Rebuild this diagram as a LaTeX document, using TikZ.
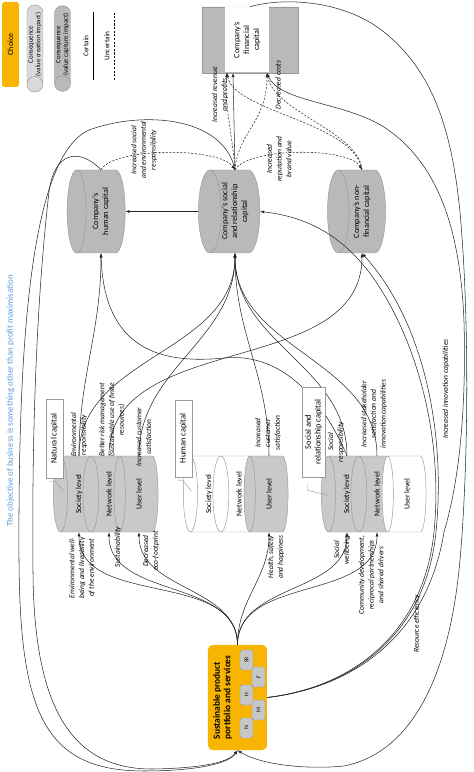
\documentclass[tikz,border=0pt]{standalone}
\usepackage{fontspec}
\setmainfont{Carlito}
\usetikzlibrary{shapes.geometric,arrows.meta}
\definecolor{choiceorange}{RGB}{247,180,0}
\definecolor{mottoblue}{RGB}{91,155,213}
\newcommand{\fsz}[2]{\fontsize{#1}{#2}\selectfont}

\tikzset{
  link/.style={draw=black!85, line width=0.45pt, -{Latex[length=3.5pt,width=2.6pt]}},
  unsure/.style={link, dash pattern=on 1.8pt off 1.3pt},
  capital/.style={cylinder, shape border rotate=90, aspect=0.4, draw=gray!80, fill=gray!55,
    inner sep=0pt, align=center, font=\fsz{7}{8.5}},
  level/.style={cylinder, shape border rotate=90, aspect=0.36, draw=gray!80, fill=gray!42,
    inner sep=0pt, minimum width=2.28cm, minimum height=1.32cm, font=\fsz{6.7}{8}},
  blank/.style={level, fill=white},
  tag/.style={draw=gray!80, fill=white, inner sep=0pt, align=center, font=\fsz{7.2}{8.5}},
  leader/.style={draw=gray!80, line width=0.4pt},
  note/.style={inner sep=0pt, align=center, font=\fsz{6.4}{8.3}\itshape},
  chip/.style={draw=gray!80, fill=gray!45, rounded corners=1.5pt, minimum width=0.6cm,
    minimum height=0.39cm, inner sep=0pt, font=\fsz{5}{6}},
  legcyl/.style={cylinder, shape border rotate=180, aspect=1.2, draw=gray!80, minimum width=0.48cm,
    minimum height=2.55cm, inner sep=0pt, align=center, font=\fsz{5.8}{6.4}}
}

\begin{document}
\begin{tikzpicture}[x=0.03cm, y=0.03cm, rotate=90, transform shape]
\useasboundingbox (0,0) rectangle (772,474);

% legend
\node[fill=choiceorange, rounded corners=2pt, minimum width=2.55cm, minimum height=0.5cm, inner sep=0pt, font=\fsz{6.8}{8}] (choice) at (727.5,463.5) {Choice};
\node[legcyl, fill=gray!30] (create) at (727.5,439) {Consequence\\(value creation impact)};
\node[legcyl, fill=gray!55] (capture) at (727.5,411.5) {Consequence\\(value capture impact)};
\coordinate (sure-a) at (692,381);
\coordinate (sure-b) at (760,381);
\coordinate (guess-a) at (692,360);
\coordinate (guess-b) at (760,360);
\draw[line width=0.5pt] (sure-a) -- (sure-b);
\draw[line width=0.5pt, dash pattern=on 1.8pt off 1.3pt] (guess-a) -- (guess-b);
\node[font=\fsz{6.2}{7}] (sure) at (726,388) {Certain};
\node[font=\fsz{6.2}{7}] (guess) at (726,367) {Uncertain};

\node[text=mottoblue, font=\fsz{7.6}{9}] (motto) at (371,463.5) {The objective of business is something other than profit maximisation};

% company capitals
\node[capital, minimum width=2.49cm, minimum height=1.74cm] (hum) at (560.5,373) {Company’s\\human capital};
\node[capital, minimum width=2.49cm, minimum height=1.74cm] (soc) at (560.5,239) {Company’s social\\and relationship\\capital};
\node[capital, minimum width=2.49cm, minimum height=1.74cm] (nonf) at (560.5,112) {Company’s non-\\financial capital};
\node[capital, minimum width=1.98cm, minimum height=2.88cm] (fin) at (732,224) {};
\node[fill=white, minimum width=1.95cm, minimum height=1.32cm, inner sep=0pt, align=center, font=\fsz{7}{8.5}] (fintxt) at (732,227) {Company’s\\financial\\capital};
\coordinate (fin-a) at (699,247);
\coordinate (fin-b) at (699,241);
\coordinate (fin-c) at (699,207);

% levels
\node[level] (natS) at (278,395) {Society level};
\node[level] (natN) at (278,365) {Network level};
\node[level] (natU) at (278,335) {User level};
\node[blank] (humS) at (278,265) {Society level};
\node[blank] (humN) at (278,235) {Network level};
\node[level] (humU) at (278,205) {User level};
\node[level] (socS) at (278,127) {Society level};
\node[level] (socN) at (278,97) {Network level};
\node[blank] (socU) at (278,67) {User level};

% choice
\node[fill=choiceorange, rounded corners=4pt, minimum width=3.15cm, minimum height=1.77cm] (prod) at (74.5,236.5) {};
\node[align=left, inner sep=0pt, font=\fsz{8}{9}\bfseries] (prodtxt) at (74.5,251.5) {Sustainable product\\portfolio and services};
\node[chip] (n) at (44,227.5) {N};
\node[chip] (m) at (62,215.5) {M};
\node[chip] (h) at (77,227.5) {H};
\node[chip] (f) at (95,215.5) {F};
\node[chip] (sr) at (112,227.5) {SR};

% choice -> levels
\draw[link] (prod.east) to[out=0,in=180] (natS.west);
\draw[link] (prod.east) to[out=0,in=180] (natN.west);
\draw[link] (prod.east) to[out=0,in=180] (natU.west);
\draw[link] (prod.east) to[out=0,in=180] (humU.west);
\draw[link] (prod.east) to[out=0,in=180] (socS.west);
\draw[link] (prod.east) to[out=0,in=180] (socN.west);

% levels -> capitals
\draw[link] (natS.east) to[out=0,in=180] (hum.west);
\draw[link] (natS.east) to[out=0,in=180] (soc.west);
\draw[link] (natN.east) to[out=0,in=180] (nonf.west);
\draw[link] (natU.east) to[out=0,in=180] (soc.west);
\draw[link] (humU.east) to[out=0,in=180] (soc.west);
\draw[link] (socS.east) .. controls (370,150) and (420,190) .. (414,250) .. controls (408,310) and (420,370) .. (hum.west);
\draw[link] (socS.east) to[out=0,in=180] (soc.west);
\draw[link] (socN.east) to[out=0,in=180] (soc.west);
\draw[link] (soc.north) -- (hum.south);

% choice -> capitals, round the bottom
\draw[link] (prod.south) .. controls (85,120) and (140,50) .. (240,40) .. controls (340,30) and (440,60) .. (500,105) .. controls (535,132) and (555,165) .. (soc.south);
\draw[link] (prod.south) .. controls (85,118) and (140,48) .. (240,38) .. controls (340,28) and (450,50) .. (nonf.west);
\draw[link] (prod.south) .. controls (85,116) and (140,46) .. (240,30) .. controls (300,12) and (380,8) .. (450,10) .. controls (560,14) and (615,45) .. (645,90) .. controls (670,130) and (670,195) .. (fin-c);

% capitals -> financial
\draw[link] (soc.east) -- (fin-b);
\draw[unsure] (hum.east) .. controls (625,360) and (625,255) .. (soc.east);
\draw[unsure] (soc.east) .. controls (625,225) and (625,125) .. (nonf.east);
\draw[unsure] (soc.east) .. controls (640,242) and (670,250) .. (fin-a);
\draw[unsure] (soc.east) .. controls (640,236) and (650,207) .. (fin-c);
\draw[unsure] (nonf.east) .. controls (650,120) and (660,240) .. (fin-a);
\draw[unsure] (nonf.east) .. controls (640,115) and (660,200) .. (fin-c);

% feedback loops into the choice
\draw[link] (hum.east) .. controls (625,395) and (620,420) .. (580,425) .. controls (450,440) and (300,442) .. (200,441) .. controls (60,440) and (2,400) .. (3,320) .. controls (4,270) and (10,245) .. (prod.west);
\draw[link] (soc.east) .. controls (655,250) and (662,330) .. (642,385) .. controls (615,445) and (420,456) .. (212,455) .. controls (60,454) and (1,430) .. (1,330) .. controls (1,280) and (8,245) .. (prod.west);
\draw[link] (fin.east) .. controls (775,190) and (772,130) .. (740,90) .. controls (700,40) and (640,22) .. (560,14) .. controls (450,4) and (300,6) .. (212,14) .. controls (100,24) and (20,60) .. (6,130) .. controls (2,170) and (8,215) .. (prod.west);

% boxes
\node[tag, minimum width=2.37cm, minimum height=0.51cm] (natcap) at (333.5,419.5) {Natural capital};
\node[tag, minimum width=2.31cm, minimum height=0.51cm] (humcap) at (333.5,290.5) {Human capital};
\node[tag, minimum width=2.7cm, minimum height=0.69cm] (soccap) at (340,160.5) {Social and\\relationship capital};
\draw[leader] (natcap.west) ++(-3,5) -- ++(0,-6) -- ++(-10,-8);
\draw[leader] (humcap.west) ++(-3,6) -- ++(0,-5) -- ++(-11,-9);
\draw[leader] (soccap.west) ++(-7,6) -- ++(-6,0) -- ++(-5,-20);

% labels
\node[note] (l1) at (204,392) {Environmental well-\\being and liveability\\of the environment};
\node[note] (l2) at (225,356) {Sustainability};
\node[note] (l3) at (221,323) {Decreased\\eco-footprint};
\node[note] (l4) at (215,198) {Health, safety\\and happiness};
\node[note] (l5) at (222,132) {Social\\wellbeing};
\node[note] (l6) at (197,103) {Community development,\\reciprocal partnerships\\and shared drivers};
\node[note] (l7) at (337,395) {Environmental\\responsibility};
\node[note] (l8) at (352,362) {Better risk management\\(sustainable use of finite\\resources)};
\node[note] (l9) at (335,330) {Increased customer\\satisfaction};
\node[note] (l10) at (339,206) {Increased\\customer\\satisfaction};
\node[note] (l11) at (330,138) {Social\\responsibility};
\node[note] (l12) at (358,100) {Increased stakeholder\\satisfaction and\\innovation capabilities};
\node[note] (l13) at (622,330) {Increased social\\and environmental\\responsibility};
\node[note] (l14) at (613,195) {Increased\\reputation and\\brand value};
\node[note] (l15) at (677,254) {Increased revenue\\and profits};
\node[note] (l16) at (687,196) {Decreased costs};
\node[note] (l17) at (383,28) {Increased innovation capabilities};
\node[note] (l18) at (148,57) {Resource efficiency};
\end{tikzpicture}
\end{document}
